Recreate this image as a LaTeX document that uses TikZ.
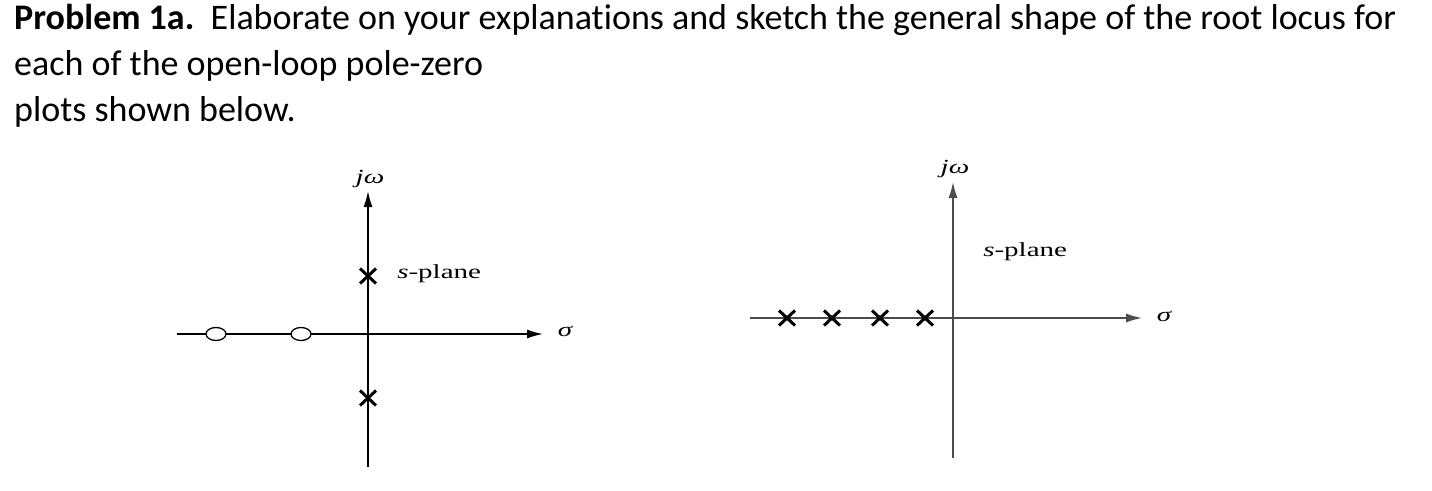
\documentclass[tikz,border=0pt]{standalone}
\usepackage{fontspec}
\setmainfont{Carlito}[Ligatures=NoCommon]
\newfontfamily\plotfont{Liberation Serif}
\usetikzlibrary{arrows.meta,shapes.geometric,shapes.misc}
\begin{document}
\begin{tikzpicture}
  [x=1pt,y=-1pt,every node/.style={inner sep=0pt}]
  \tikzstyle{title} = [anchor=base west,font=\fontsize{36}{44}\selectfont]
  \tikzstyle{lbl} = [font=\fontsize{20}{24}\plotfont\itshape,xscale=1.45]
  \tikzstyle{axis} = [line width=1.5pt,-{Latex[length=16pt,width=9pt]}]
  \tikzstyle{pole} = [cross out,draw,line width=3pt,minimum width=13pt,minimum height=12pt]
  \tikzstyle{zero} = [ellipse,draw,fill=white,line width=1.3pt,minimum width=20pt,minimum height=13pt]
  \useasboundingbox (0,0) rectangle (1432,490);
  % problem text
  \node[title] (t1) at (14,29) {\textbf{Problem 1a.}\ \ Elaborate on your explanations and sketch the general shape of the root locus for};
  \node[title] (t2) at (14,75) {each of the open-loop pole-zero};
  \node[title] (t3) at (14,121) {plots shown below.};
  % left plot
  \coordinate (lw) at (177,334);
  \coordinate (le) at (543,334);
  \coordinate (ls) at (368,467);
  \coordinate (ln) at (368,191);
  \draw[axis] (lw) -- (le);
  \draw[axis] (ls) -- (ln);
  \node[lbl] (lsig) at (565,331) {σ};
  \node[lbl] (ljw) at (370,179) {jω};
  \node[lbl,anchor=west] (lsp) at (397,274) {s\upshape -plane};
  \foreach \name/\y in {lp1/276,lp2/398}
    \node[pole] (\name) at (368,\y) {};
  \foreach \name/\x in {lz1/216,lz2/301}
    \node[zero] (\name) at (\x,334) {};
  % right plot
  \begin{scope}[black!70]
  \coordinate (rw) at (750,318);
  \coordinate (re) at (1142,318);
  \coordinate (rs) at (953,458);
  \coordinate (rn) at (953,182);
  \draw[axis] (rw) -- (re);
  \draw[axis] (rs) -- (rn);
  \end{scope}
  \node[lbl] (rsig) at (1164,316) {σ};
  \node[lbl] (rjw) at (955,169) {jω};
  \node[lbl,anchor=west] (rsp) at (983,252) {s\upshape -plane};
  \foreach \name/\x in {rp1/787,rp2/832,rp3/880,rp4/925}
    \node[pole] (\name) at (\x,318) {};
\end{tikzpicture}
\end{document}
